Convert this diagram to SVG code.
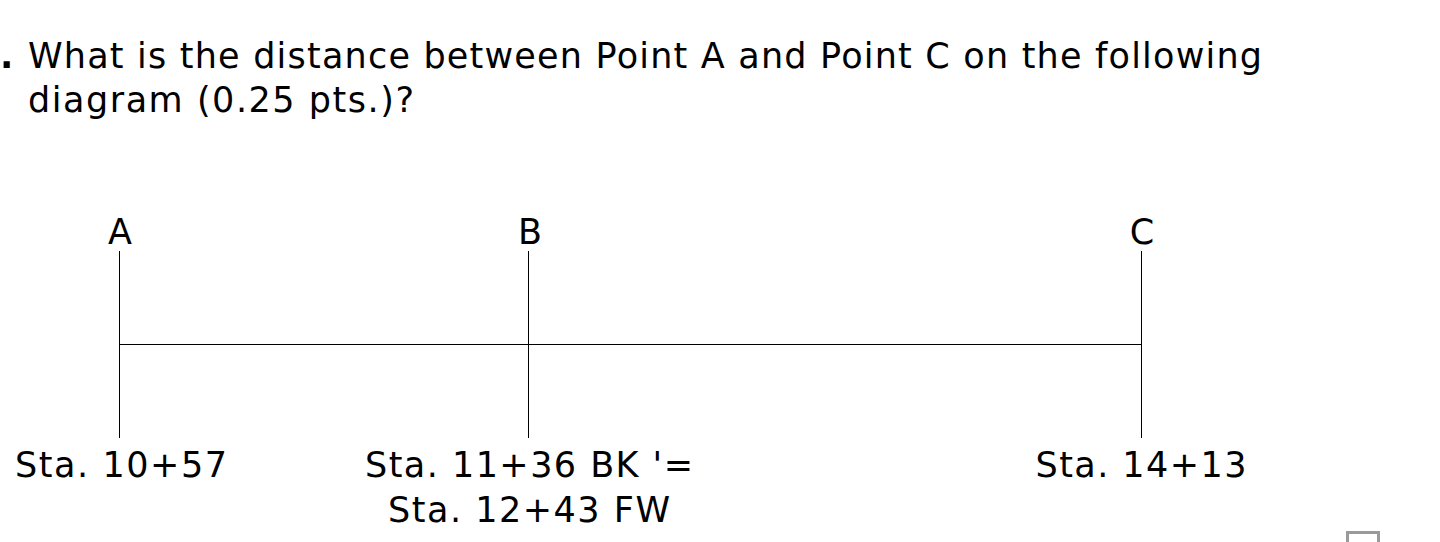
<svg xmlns="http://www.w3.org/2000/svg" width="1440" height="542" viewBox="0 0 1440 542">
<style>
text{font-family:"DejaVu Sans","Verdana",sans-serif;font-size:35px;fill:#000}
.c{text-anchor:middle}
.ln{stroke:#000;stroke-width:1;fill:none}
</style>
<rect width="1440" height="542" fill="#fff"/>
<g id="question">
<text x="0" y="68" font-weight="bold">.</text>
<text x="28" y="68" textLength="1234" lengthAdjust="spacing">What is the distance between Point A and Point C on the following</text>
<text x="28" y="112" textLength="386" lengthAdjust="spacing">diagram (0.25 pts.)?</text>
</g>
<g id="connectors">
<line class="ln" x1="119.5" y1="251" x2="119.5" y2="438"/>
<line class="ln" x1="528.5" y1="251" x2="528.5" y2="438"/>
<line class="ln" x1="1141.5" y1="251" x2="1141.5" y2="438"/>
<line class="ln" x1="119.5" y1="344.5" x2="1141.5" y2="344.5"/>
</g>
<g id="pointA">
<text class="c" x="120" y="244">A</text>
<text class="c" x="121" y="477" textLength="212" lengthAdjust="spacing">Sta. 10+57</text>
</g>
<g id="pointB">
<text class="c" x="530" y="244">B</text>
<text class="c" x="529" y="477" textLength="328" lengthAdjust="spacing">Sta. 11+36 BK '=</text>
<text class="c" x="529" y="522" textLength="282" lengthAdjust="spacing">Sta. 12+43 FW</text>
</g>
<g id="pointC">
<text class="c" x="1142" y="244">C</text>
<text class="c" x="1141" y="477" textLength="211" lengthAdjust="spacing">Sta. 14+13</text>
</g>
<rect x="1347.5" y="532.5" width="31" height="20" fill="#fff" stroke="#9a9a9a" stroke-width="3"/>
</svg>
